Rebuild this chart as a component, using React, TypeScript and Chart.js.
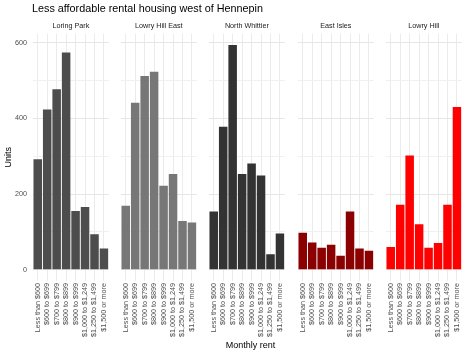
import React, { useEffect, useRef } from "react";
import { Chart, registerables } from "chart.js";

Chart.register(...registerables);

const FONT = "'Liberation Sans', Arial, Helvetica, sans-serif";

const chartTitle = "Less affordable rental housing west of Hennepin";
const xAxisTitle = "Monthly rent";
const yAxisTitle = "Units";

const rentBands = [
  "Less than $600",
  "$600 to $699",
  "$700 to $799",
  "$800 to $899",
  "$900 to $999",
  "$1,000 to $1,249",
  "$1,250 to $1,499",
  "$1,500 or more",
];

const neighborhoods = ["Loring Park", "Lowry Hill East", "North Whittier", "East Isles", "Lowry Hill"];

const loringPark = [292, 423, 477, 574, 155, 166, 94, 56];
const lowryHillEast = [169, 441, 512, 523, 222, 253, 129, 125];
const northWhittier = [154, 378, 594, 253, 281, 249, 41, 96];
const eastIsles = [98, 72, 58, 66, 37, 154, 56, 50];
const lowryHill = [60, 172, 302, 120, 58, 71, 172, 430];

const seriesValues = [loringPark, lowryHillEast, northWhittier, eastIsles, lowryHill];
const panelColors = ["#4d4d4d", "#777777", "#333333", "#8b0000", "#ff0000"];

const yGridTicks = [0, 100, 200, 300, 400, 500, 600];
const yLabelStep = 200;

// layout (pixels)
const PANEL_LEFTS = [33, 121, 209, 298, 386];
const PANEL_WIDTH = 82;
const Y_AXIS_WIDTH = 33;
const CANVAS_HEIGHT = 355;
const X_AXIS_HEIGHT = 74;

type PanelProps = {
  name: string;
  values: number[];
  color: string;
  left: number;
  width: number;
  withYAxis: boolean;
};

function FacetPanel({ name, values, color, left, width, withYAxis }: PanelProps) {
  const ref = useRef<HTMLCanvasElement>(null);
  useEffect(() => {
    const chart = new Chart(ref.current as HTMLCanvasElement, {
      type: "bar",
      data: {
        labels: rentBands,
        datasets: [
          {
            data: values,
            backgroundColor: color,
            borderWidth: 0,
            barPercentage: 0.9,
            categoryPercentage: 1,
          },
        ],
      },
      options: {
        animation: false,
        responsive: false,
        maintainAspectRatio: false,
        layout: { padding: 0 },
        plugins: {
          legend: { display: false },
          tooltip: { enabled: false },
          title: {
            display: true,
            text: name,
            fullSize: false,
            color: "#1a1a1a",
            font: { size: 7.2, family: FONT, weight: "normal" },
            padding: { top: 22, bottom: 3 },
          },
        },
        scales: {
          x: {
            grid: { offset: false, color: "#ebebeb", lineWidth: 1, drawTicks: false },
            border: { display: false },
            ticks: {
              autoSkip: false,
              minRotation: 90,
              maxRotation: 90,
              padding: 2,
              color: "#4d4d4d",
              font: { size: 7.2, family: FONT },
            },
            afterFit: (s: any) => {
              s.height = X_AXIS_HEIGHT;
            },
          },
          y: {
            min: -29.7,
            max: 623.7,
            afterBuildTicks: (s: any) => {
              s.ticks = yGridTicks.map((v) => ({ value: v }));
            },
            grid: {
              color: (ctx: any) => (ctx.tick && ctx.tick.value % yLabelStep === 0 ? "#e6e6e6" : "#f0f0f0"),
              lineWidth: 1,
              drawTicks: false,
            },
            border: { display: false },
            ticks: {
              display: withYAxis,
              padding: 6,
              color: "#4d4d4d",
              font: { size: 7.2, family: FONT },
              callback: (v: any) => (Number(v) % yLabelStep === 0 ? String(v) : ""),
            },
            title: {
              display: withYAxis,
              text: yAxisTitle,
              color: "#000000",
              font: { size: 9, family: FONT },
              padding: { top: 3, bottom: 0 },
            },
            afterFit: (s: any) => {
              s.width = withYAxis ? Y_AXIS_WIDTH : 0;
            },
          },
        },
      },
    } as any);
    return () => chart.destroy();
  }, [name, values, color, withYAxis]);

  return (
    <canvas
      ref={ref}
      width={width}
      height={CANVAS_HEIGHT}
      style={{ position: "absolute", left, top: 0, width, height: CANVAS_HEIGHT }}
    />
  );
}

export default function App() {
  const panelsLeft = PANEL_LEFTS[0];
  const panelsRight = PANEL_LEFTS[PANEL_LEFTS.length - 1] + PANEL_WIDTH;
  const center = (panelsLeft + panelsRight) / 2;
  return (
    <div
      style={{
        position: "absolute",
        left: 0,
        top: 0,
        width: 474,
        height: 355,
        overflow: "hidden",
        background: "#ffffff",
        fontFamily: FONT,
      }}
    >
      {neighborhoods.map((n, i) => (
        <FacetPanel
          key={n}
          name={n}
          values={seriesValues[i]}
          color={panelColors[i]}
          left={i === 0 ? 0 : PANEL_LEFTS[i]}
          width={i === 0 ? PANEL_LEFTS[0] + PANEL_WIDTH : PANEL_WIDTH}
          withYAxis={i === 0}
        />
      ))}
      <div
        style={{
          position: "absolute",
          left: 32,
          top: 3,
          fontSize: 10.8,
          lineHeight: "11px",
          color: "#000000",
          whiteSpace: "nowrap",
        }}
      >
        {chartTitle}
      </div>
      <div
        style={{
          position: "absolute",
          left: center - 100,
          width: 200,
          top: 341.4,
          fontSize: 9,
          lineHeight: "9px",
          textAlign: "center",
          color: "#000000",
          whiteSpace: "nowrap",
        }}
      >
        {xAxisTitle}
      </div>
    </div>
  );
}
